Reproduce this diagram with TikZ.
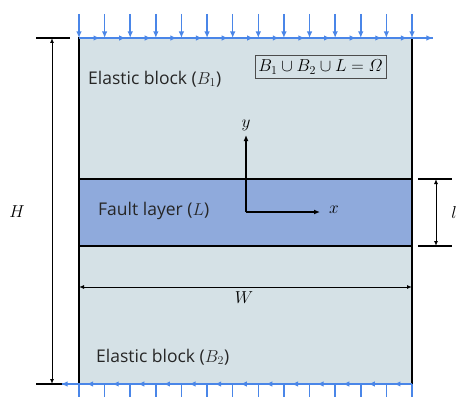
\documentclass[tikz,border=0pt]{standalone}
\usepackage{amsmath}
\usepackage{fontspec}
\setmainfont{Open Sans}
\usetikzlibrary{arrows.meta}
\definecolor{blockfill}{RGB}{213,225,230}
\definecolor{faultfill}{RGB}{143,170,220}
\definecolor{loadblue}{RGB}{74,134,232}
\tikzset{
  load/.style={loadblue,line width=1.5pt,-{Latex[length=6.5pt,width=5.5pt]}},
  loadline/.style={loadblue,line width=1.5pt},
  dim/.style={black,line width=1pt,{Latex[length=5pt,width=4pt]}-{Latex[length=5pt,width=4pt]}},
  ext/.style={black,line width=1.3pt},
  axis/.style={black,line width=1.3pt,-{Latex[length=6pt,width=5pt]}},
  lbl/.style={font=\fontsize{17.5}{20}\selectfont,text=black!85,inner sep=0pt},
  mlbl/.style={font=\fontsize{17}{20}\selectfont,inner sep=0pt}
}
\begin{document}
\begin{tikzpicture}[x=1pt,y=-1pt]
\useasboundingbox (0,0) rectangle (474,420);
% blocks
\fill[blockfill] (79,38) rectangle (412,384);
\fill[faultfill] (79,179) rectangle (412,246);
\draw[ext] (79,38) rectangle (412,384);
\draw[ext] (79,179) -- (412,179);
\draw[ext] (79,246) -- (412,246);
% top loads
\draw[loadline] (79,38) -- (433,38);
\foreach \i in {0,...,13}{
  \pgfmathsetmacro{\xx}{79+\i*25.615}
  \draw[load] (\xx,14) -- (\xx,38);
  \draw[load] (\xx,38) -- (\xx+21,38);
}
% bottom loads
\draw[loadline] (412,384) -- (58,384);
\foreach \i in {0,...,13}{
  \pgfmathsetmacro{\xx}{79+\i*25.615}
  \draw[loadline] (\xx,384) -- (\xx,397);
  \draw[load] (\xx,384) -- (\xx-18,384);
}
% H dimension
\coordinate (Ht) at (52,38);
\coordinate (Hb) at (52,384);
\draw[ext] (36,38) -- (70,38);
\draw[ext] (36,384) -- (62,384);
\draw[dim] (Ht) -- (Hb);
\node[mlbl] (H) at (17,212) {$H$};
% l dimension
\coordinate (lt) at (436,179);
\coordinate (lb) at (436,246);
\draw[ext] (418,179) -- (452,179);
\draw[ext] (418,246) -- (452,246);
\draw[dim] (lt) -- (lb);
\node[mlbl] (l) at (454,212) {$l$};
% W dimension
\coordinate (Wl) at (79,287);
\coordinate (Wr) at (412,287);
\draw[dim] (Wl) -- (Wr);
\node[mlbl] (W) at (244,298) {$W$};
% axes
\coordinate (O) at (246,212);
\coordinate (Yend) at (246,135);
\coordinate (Xend) at (320,212);
\draw[axis] (O) -- (Yend);
\draw[axis] (O) -- (Xend);
\node[mlbl] (ylab) at (246,125) {$y$};
\node[mlbl] (xlab) at (334,210) {$x$};
% labels
\node[lbl,anchor=west] (B1) at (88,79) {Elastic block ($B_1$)};
\node[lbl,anchor=west] (FL) at (98,211) {Fault layer ($L$)};
\node[lbl,anchor=west] (B2) at (96,357) {Elastic block ($B_2$)};
\node[mlbl,draw=black!70,line width=0.6pt,inner xsep=3pt,inner ysep=3pt,minimum width=131pt,minimum height=23pt] (Om) at (320.5,67) {$B_1\cup B_2\cup L=\varOmega$};
\end{tikzpicture}
\end{document}
